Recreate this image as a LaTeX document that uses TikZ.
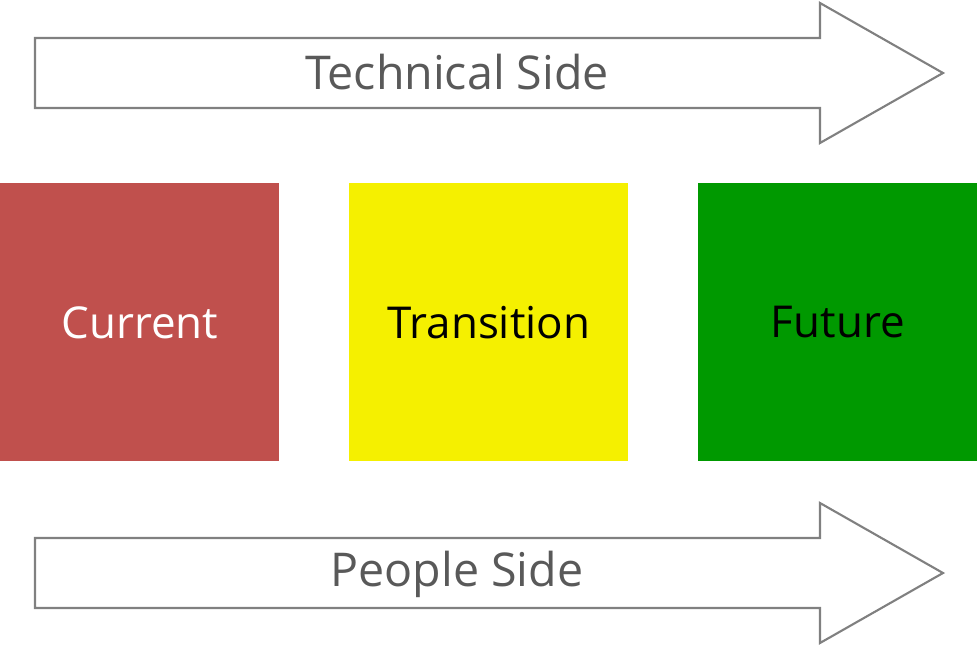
\documentclass[tikz,border=0pt]{standalone}
\usepackage{fontspec}
\setmainfont{Open Sans}
\usetikzlibrary{positioning}
\definecolor{curred}{HTML}{C0504D}
\definecolor{transyellow}{HTML}{F5F000}
\definecolor{futgreen}{HTML}{009900}
\definecolor{sidegray}{HTML}{595959}
\definecolor{linegray}{HTML}{808080}
\tikzset{
  sidearrow/.style={draw=linegray, line width=1.2pt, fill=white},
  stage/.style={minimum width=5.58cm, minimum height=5.56cm, inner sep=0pt, anchor=north west,
                font=\fontsize{25}{29}\selectfont},
  sidelabel/.style={text=sidegray, font=\fontsize{26.5}{31}\selectfont}
}
\begin{document}
\begin{tikzpicture}[x=0.02cm, y=-0.02cm]
\useasboundingbox (0,0) rectangle (977,646);
% arrows
\draw[sidearrow] (35,38) -- (820,38) -- (820,3) -- (943,73) -- (820,143) -- (820,108) -- (35,108) -- cycle;
\draw[sidearrow] (35,538) -- (820,538) -- (820,503) -- (943,573) -- (820,643) -- (820,608) -- (35,608) -- cycle;
\node[sidelabel] (tech) at (457,72) {Technical Side};
\node[sidelabel] (people) at (457,574) {People Side};
% stages
\node[stage, fill=curred, text=white] (current) at (0,183) {Current};
\node[stage, fill=transyellow, text=black] (transition) at (349,183) {Transition};
\node[stage, fill=futgreen, text=black] (future) at (698,183) {Future};
\end{tikzpicture}
\end{document}
